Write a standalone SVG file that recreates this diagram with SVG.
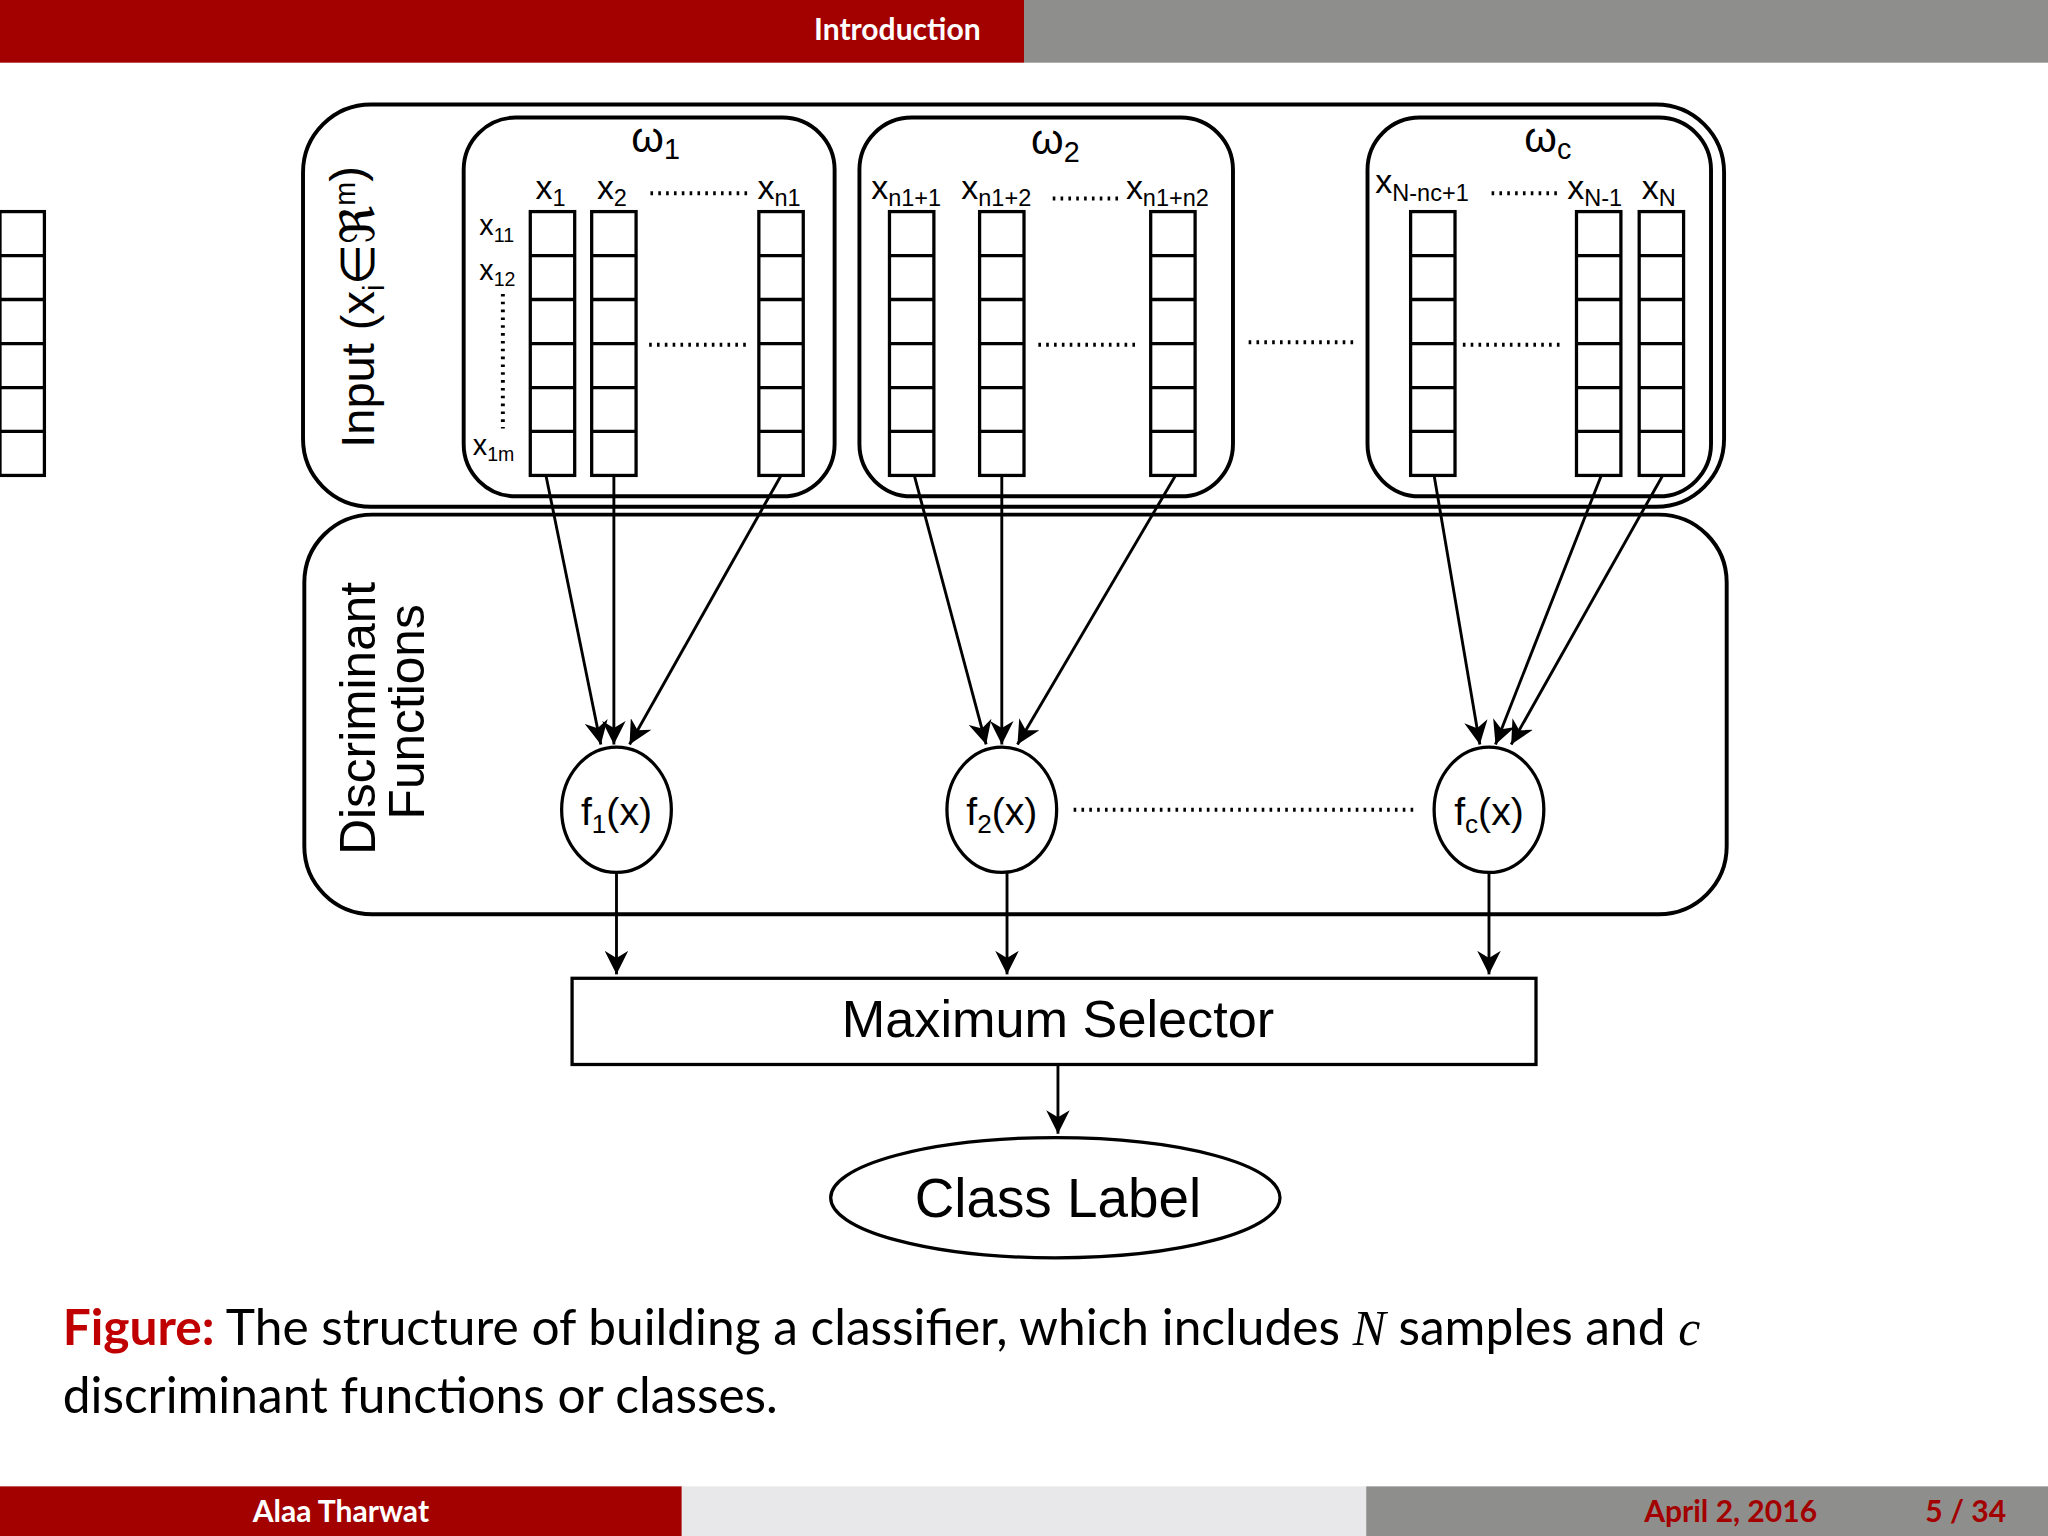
<svg xmlns="http://www.w3.org/2000/svg" width="2048" height="1536" viewBox="0 0 2048 1536">
<defs>
<marker id="ah" viewBox="0 0 10 10" refX="10" refY="5" markerWidth="9" markerHeight="9" orient="auto" markerUnits="userSpaceOnUse"><path d="M0,0 L10,5 L0,10 L3,5 z" fill="#000"/></marker>
<marker id="ah2" viewBox="0 0 10 10" refX="10" refY="5" markerWidth="18" markerHeight="18" orient="auto" markerUnits="userSpaceOnUse"><path d="M0,0 L10,5 L0,10 L3,5 z" fill="#000"/></marker>
</defs>
<style>
.t{font-family:"Liberation Sans",Arial,sans-serif;fill:#000}
.b{fill:none;stroke:#000;stroke-width:3}
.c{fill:#fff;stroke:#000;stroke-width:2.5}
.d{stroke:#000;stroke-width:3;stroke-dasharray:2 4;fill:none}
.a{stroke:#000;stroke-width:2.2;fill:none;marker-end:url(#ah2)}
.cap{font-family:"Lato","DejaVu Sans",sans-serif;font-size:38px}
</style>
<rect width="2048" height="1536" fill="#fff"/>
<g transform="scale(1.30612)">
<g id="header">
<rect x="0" y="0" width="784" height="48" fill="#a30000"/>
<rect x="784" y="0" width="784" height="48" fill="#8e8f8c"/>
<text x="687" y="31" font-family="Lato,'DejaVu Sans',sans-serif" font-size="23" font-weight="bold" fill="#fff" text-anchor="middle">Introduction</text>
</g>
<g id="input">
<rect x="232" y="80" width="1088" height="308" rx="52" class="b" stroke-width="4"/>
<text class="t" font-size="36" transform="translate(286,235) rotate(-90)" text-anchor="middle">Input (x<tspan font-size="22" dy="8">i</tspan><tspan dy="-8">∈ℜ</tspan><tspan font-size="22" dy="-14">m</tspan><tspan dy="6">)</tspan></text>
</g>
<g id="disc">
<rect x="233" y="394" width="1089" height="306" rx="52" class="b" stroke-width="4"/>
<text class="t" font-size="38" transform="translate(287,550) rotate(-90)" text-anchor="middle">Discriminant</text>
<text class="t" font-size="38" transform="translate(325,545) rotate(-90)" text-anchor="middle">Functions</text>
</g>
<g id="w1">
<rect x="355" y="90" width="284" height="290" rx="40" class="b" stroke-width="2.5"/>
<text class="t" x="502" y="116" font-size="32" text-anchor="middle">ω<tspan font-size="22" dy="6">1</tspan></text>
<text class="t" x="410" y="152" font-size="26">x<tspan font-size="18" dy="6">1</tspan></text>
<text class="t" x="457" y="152" font-size="26">x<tspan font-size="18" dy="6">2</tspan></text>
<text class="t" x="580" y="152" font-size="26">x<tspan font-size="18" dy="6">n1</tspan></text>
<line x1="498" y1="148" x2="572" y2="148" class="d"/>
<text class="t" x="367" y="180" font-size="22">x<tspan font-size="15" dy="5">11</tspan></text>
<text class="t" x="367" y="214" font-size="22">x<tspan font-size="15" dy="5">12</tspan></text>
<text class="t" x="362" y="348" font-size="22">x<tspan font-size="15" dy="5">1m</tspan></text>
<line x1="385" y1="225" x2="385" y2="328" class="d"/>
<line x1="497" y1="264" x2="575" y2="264" class="d"/>
</g>
<g id="w2">
<rect x="658" y="90" width="286" height="290" rx="40" class="b" stroke-width="2.5"/>
<text class="t" x="808" y="118" font-size="32" text-anchor="middle">ω<tspan font-size="22" dy="6">2</tspan></text>
<text class="t" x="667" y="152" font-size="26">x<tspan font-size="18" dy="6">n1+1</tspan></text>
<text class="t" x="736" y="152" font-size="26">x<tspan font-size="18" dy="6">n1+2</tspan></text>
<text class="t" x="862" y="152" font-size="26">x<tspan font-size="18" dy="6">n1+n2</tspan></text>
<line x1="806" y1="152" x2="858" y2="152" class="d"/>
<line x1="795" y1="264" x2="872" y2="264" class="d"/>
</g>
<line x1="956" y1="262" x2="1036" y2="262" class="d"/>
<g id="wc">
<rect x="1047" y="90" width="263" height="290" rx="40" class="b" stroke-width="2.5"/>
<text class="t" x="1185" y="116" font-size="32" text-anchor="middle">ω<tspan font-size="22" dy="6">c</tspan></text>
<text class="t" x="1053" y="148" font-size="26">x<tspan font-size="18" dy="6">N-nc+1</tspan></text>
<text class="t" x="1200" y="152" font-size="26">x<tspan font-size="18" dy="6">N-1</tspan></text>
<text class="t" x="1257" y="152" font-size="26">x<tspan font-size="18" dy="6">N</tspan></text>
<line x1="1142" y1="148" x2="1196" y2="148" class="d"/>
<line x1="1120" y1="264" x2="1196" y2="264" class="d"/>
</g>
<g id="columns" fill="#fff" stroke="#000" stroke-width="2.5">
<g id="col"><rect x="0" y="162" width="34" height="202"/><path d="M0,195.7H34M0,229.3H34M0,263H34M0,296.7H34M0,330.3H34"/></g>
<use href="#col" x="406"/><use href="#col" x="453"/><use href="#col" x="581"/>
<use href="#col" x="681"/><use href="#col" x="750"/><use href="#col" x="881"/>
<use href="#col" x="1080"/><use href="#col" x="1207"/><use href="#col" x="1255"/>
</g>
<g id="connectors">
<line x1="418" y1="364" x2="460" y2="570" class="a"/>
<line x1="470" y1="364" x2="470" y2="570" class="a"/>
<line x1="598" y1="364" x2="482" y2="570" class="a"/>
<line x1="700" y1="364" x2="755" y2="570" class="a"/>
<line x1="767" y1="364" x2="767" y2="570" class="a"/>
<line x1="900" y1="364" x2="779" y2="570" class="a"/>
<line x1="1098" y1="364" x2="1133" y2="570" class="a"/>
<line x1="1226" y1="364" x2="1145" y2="570" class="a"/>
<line x1="1273" y1="364" x2="1157" y2="570" class="a"/>
<line x1="472" y1="668" x2="472" y2="746" class="a"/>
<line x1="771" y1="668" x2="771" y2="746" class="a"/>
<line x1="1140" y1="668" x2="1140" y2="746" class="a"/>
<line x1="810" y1="815" x2="810" y2="868" class="a"/>
<line x1="822" y1="620" x2="1082" y2="620" class="d"/>
</g>
<g id="f1"><ellipse cx="472" cy="620" rx="42" ry="48" class="c"/><text class="t" x="472" y="632" font-size="30" text-anchor="middle">f<tspan font-size="20" dy="6">1</tspan><tspan dy="-6">(x)</tspan></text></g>
<g id="f2"><ellipse cx="767" cy="620" rx="42" ry="48" class="c"/><text class="t" x="767" y="632" font-size="30" text-anchor="middle">f<tspan font-size="20" dy="6">2</tspan><tspan dy="-6">(x)</tspan></text></g>
<g id="fc"><ellipse cx="1140" cy="620" rx="42" ry="48" class="c"/><text class="t" x="1140" y="632" font-size="30" text-anchor="middle">f<tspan font-size="20" dy="6">c</tspan><tspan dy="-6">(x)</tspan></text></g>
<g id="maxsel"><rect x="438" y="749" width="738" height="66" class="c"/><text class="t" x="810" y="794" font-size="40" text-anchor="middle">Maximum Selector</text></g>
<g id="classlabel"><ellipse cx="808" cy="917" rx="172" ry="46" class="c"/><text class="t" x="810" y="932" font-size="42" text-anchor="middle">Class Label</text></g>
<g id="caption">
<text class="cap" x="48" y="1030"><tspan fill="#c00000" font-weight="bold">Figure:</tspan> The structure of building a classifier, which includes <tspan font-family="'Liberation Serif',serif" font-style="italic">N</tspan> samples and <tspan font-family="'Liberation Serif',serif" font-style="italic">c</tspan></text>
<text class="cap" x="48" y="1082">discriminant functions or classes.</text>
</g>
<g id="footer" font-family="Lato,'DejaVu Sans',sans-serif" font-size="23" font-weight="bold">
<rect x="0" y="1138" width="522" height="38" fill="#a30000"/>
<rect x="522" y="1138" width="524" height="38" fill="#e8e8ea"/>
<rect x="1046" y="1138" width="522" height="38" fill="#8e8f8c"/>
<text x="261" y="1165" fill="#fff" text-anchor="middle">Alaa Tharwat</text>
<text x="1325" y="1165" fill="#a30000" text-anchor="middle">April 2, 2016</text>
<text x="1505" y="1165" fill="#a30000" text-anchor="middle">5 / 34</text>
</g>
</g>
</svg>
